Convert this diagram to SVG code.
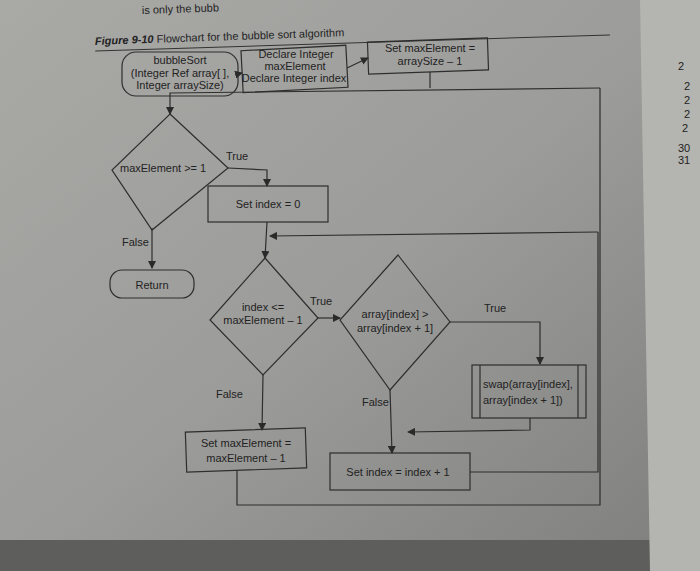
<svg xmlns="http://www.w3.org/2000/svg" width="700" height="571" viewBox="0 0 700 571">
<defs>
<linearGradient id="bg" x1="0" y1="0" x2="1" y2="1">
<stop offset="0" stop-color="#a9a9a6"/><stop offset="0.5" stop-color="#9c9c9a"/><stop offset="1" stop-color="#7e7e7c"/>
</linearGradient>
<marker id="ah" markerWidth="8" markerHeight="8" refX="7" refY="4" orient="auto" markerUnits="userSpaceOnUse">
<path d="M0,0 L8,4 L0,8 z" fill="#2a2a2a"/>
</marker>
<style>
text{font-family:"Liberation Sans",Arial,sans-serif;fill:#222;font-size:11px}
.s{fill:none;stroke:#2e2e2e;stroke-width:1.2}
.l{fill:none;stroke:#2e2e2e;stroke-width:1.2}
.a{marker-end:url(#ah)}
.c{text-anchor:middle}
</style>
</defs>
<rect width="700" height="571" fill="url(#bg)"/>
<rect x="0" y="540" width="700" height="31" fill="#5e5e5c"/>
<path d="M640 0 L700 0 L700 571 L650 571 Z" fill="#b4b4b0"/>
<g font-size="10"><text x="678" y="70" fill="#555">2</text><text x="684" y="90">2</text><text x="684" y="104">2</text><text x="684" y="118">2</text><text x="682" y="132">2</text><text x="678" y="152">30</text><text x="678" y="164">31</text></g>
<text x="142" y="14" font-size="11" fill="#444" transform="rotate(-2 142 14)">is only the bubb</text>
<g transform="rotate(-2 350 40)">
<text x="95" y="36" font-size="12.5"><tspan font-weight="bold" font-style="italic">Figure 9-10</tspan> Flowchart for the bubble sort algorithm</text>
<line x1="95" y1="42" x2="610" y2="44" stroke="#333" stroke-width="1"/>
</g>
<g id="connectors">
<line class="l a" x1="238" y1="74" x2="242" y2="73"/>
<line class="l a" x1="347" y1="68" x2="368" y2="58"/>
<path class="l" d="M430 72 L430 88"/>
<path class="l a" d="M600 88 L170 93 L170 114"/>
<path class="l" d="M237 470 L237 505 L600 505 L600 88"/>
<path class="l a" d="M228 168 L267 170 L267 186"/>
<path class="l a" d="M152 228 L152 268"/>
<path class="l a" d="M267 222 L265 258"/>
<path class="l a" d="M598 232 L270 236"/>
<path class="l" d="M470 472 L598 472 L598 232"/>
<line class="l a" x1="318" y1="318" x2="340" y2="318"/>
<path class="l a" d="M450 322 L540 322 L540 364"/>
<path class="l a" d="M530 418 L530 430 L408 432"/>
<line class="l a" x1="390" y1="390" x2="392" y2="453"/>
<line class="l a" x1="263" y1="375" x2="262" y2="430"/>
</g>
<g id="start"><rect class="s" x="122" y="52" width="116" height="44" rx="14"/>
<text class="c" x="180" y="64" font-size="9.5">bubbleSort</text><text class="c" x="180" y="77" font-size="9.5">(Integer Ref array[ ],</text><text class="c" x="180" y="89" font-size="9.5">Integer arraySize)</text></g>
<g id="declare"><rect class="s" x="242" y="48" width="105" height="42" transform="rotate(-3 294 69)"/>
<text class="c" x="296" y="58" font-size="9.5">Declare Integer</text><text class="c" x="295" y="70" font-size="9.5">maxElement</text><text class="c" x="294" y="82" font-size="9.5">Declare Integer index</text></g>
<g id="setmax"><rect class="s" x="368" y="40" width="120" height="32" transform="rotate(-2 428 56)"/>
<text class="c" x="430" y="52" font-size="10">Set maxElement =</text><text class="c" x="430" y="65" font-size="10">arraySize – 1</text></g>
<g id="d1"><path class="s" d="M170 114 L228 168 L152 230 L112 170 Z"/><text x="120" y="172" font-size="9.5">maxElement &gt;= 1</text>
<text x="226" y="160" font-size="10">True</text><text x="122" y="246" font-size="10">False</text></g>
<g id="ret"><rect class="s" x="110" y="270" width="84" height="28" rx="12"/><text class="c" x="152" y="289" font-size="10">Return</text></g>
<g id="setidx"><rect class="s" x="208" y="186" width="120" height="36"/><text class="c" x="268" y="208" font-size="10">Set index = 0</text></g>
<g id="d2"><path class="s" d="M265 258 L318 318 L263 375 L210 320 Z"/>
<text class="c" x="263" y="311" font-size="10">index &lt;=</text><text class="c" x="263" y="324" font-size="10">maxElement – 1</text>
<text x="310" y="305" font-size="10">True</text><text x="216" y="398" font-size="10">False</text></g>
<g id="d3"><path class="s" d="M398 255 L450 322 L390 390 L340 320 Z"/>
<text class="c" x="395" y="318" font-size="11">array[index] &gt;</text><text class="c" x="395" y="332" font-size="11">array[index + 1]</text>
<text x="484" y="312" font-size="11">True</text><text x="362" y="406" font-size="11">False</text></g>
<g id="swap"><rect class="s" x="472" y="365" width="114" height="53"/><line class="s" x1="480" y1="365" x2="480" y2="418"/><line class="s" x1="578" y1="365" x2="578" y2="418"/>
<text x="483" y="388" font-size="11">swap(array[index],</text><text x="483" y="404" font-size="11">array[index + 1])</text></g>
<g id="incidx"><rect class="s" x="330" y="453" width="140" height="37"/><text class="c" x="398" y="476" font-size="12">Set index = index + 1</text></g>
<g id="decmax"><rect class="s" x="186" y="430" width="120" height="40" transform="rotate(-2 246 450)"/>
<text class="c" x="246" y="447" font-size="11">Set maxElement =</text><text class="c" x="246" y="462" font-size="11">maxElement – 1</text></g>
</svg>
